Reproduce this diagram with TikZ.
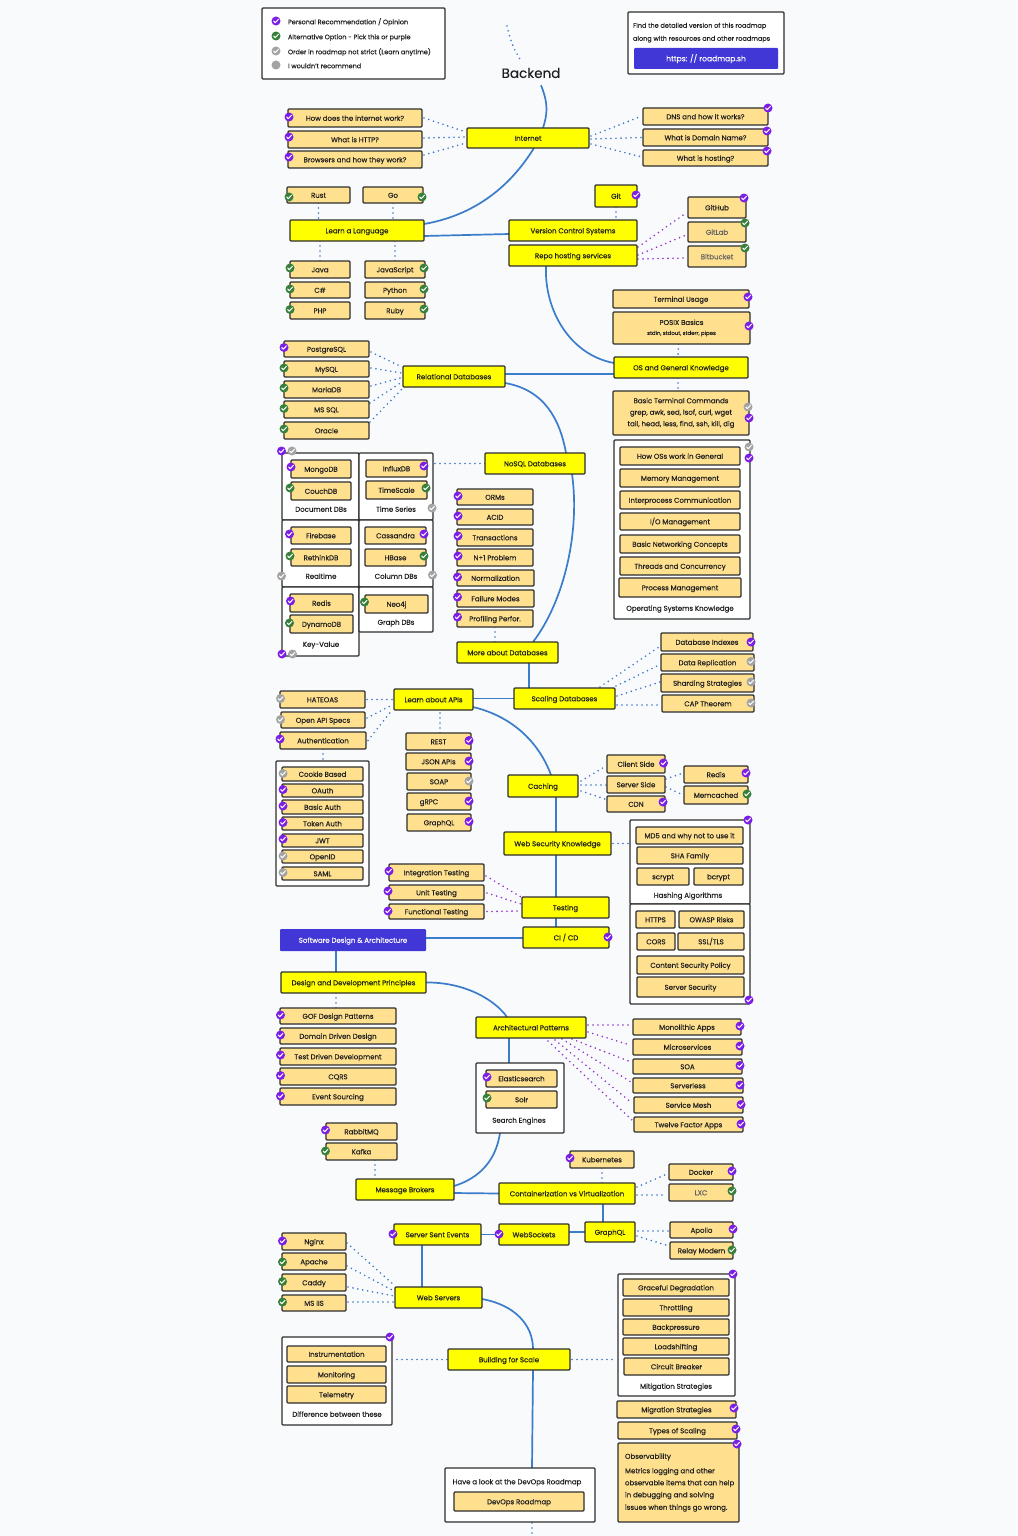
\documentclass[tikz,border=0pt]{standalone}
\usepackage{fontspec}
\setmainfont{Poppins}[UprightFeatures={FakeBold=0.07}]
\usetikzlibrary{calc}
\pgfdeclarelayer{bg}
\pgfsetlayers{bg,main}
\definecolor{pagebg}{HTML}{F8FAFC}
\definecolor{boxline}{HTML}{2E2E2E}
\definecolor{tanfill}{HTML}{FFE08F}
\definecolor{yelfill}{HTML}{FFFF00}
\definecolor{indfill}{HTML}{4136D6}
\definecolor{bluel}{HTML}{3B7CCB}
\definecolor{dotb}{HTML}{3F78CC}
\definecolor{dotp}{HTML}{9430D0}
\definecolor{bpurple}{HTML}{7D1EE6}
\definecolor{bgreen}{HTML}{36803A}
\definecolor{bgrey}{HTML}{A3A3A3}
\definecolor{inkc}{HTML}{1F1F1F}
\newcounter{bdg}
\tikzset{
  base/.style={rectangle,rounded corners=1pt,inner sep=0pt,outer sep=0pt,align=center,text=inkc,
    text height=6pt,text depth=.5pt,font=\fontsize{7}{10}\selectfont},
  multi/.style={text height={},text depth={}},
  tanbox/.style={base,draw=boxline,line width=1.1pt,fill=tanfill},
  yelbox/.style={base,draw=boxline,line width=1.1pt,fill=yelfill},
  grpbox/.style={base,draw=boxline,line width=1.1pt,fill=white},
  indbox/.style={base,fill=indfill,text=white},
  lab/.style={inner sep=0pt,outer sep=0pt,text=inkc,text height=6pt,text depth=.5pt,font=\fontsize{7}{10}\selectfont},
  smalllab/.style={lab,font=\fontsize{6.5}{10}\selectfont},
  blueline/.style={draw=bluel,line width=1.7pt},
  dotblue/.style={draw=dotb,line width=1.8pt,line cap=round,dash pattern=on 0pt off 5pt},
  dotpurple/.style={draw=dotp,line width=1.8pt,line cap=round,dash pattern=on 0pt off 5pt},
  badge/.style={circle,inner sep=0pt,outer sep=0pt,minimum size=9pt,fill=#1,
    path picture={\draw[white,line width=1pt,line cap=round,line join=round] (-2.3,0)--(-.7,1.7)--(2.4,-1.7);}},
  plainbadge/.style={circle,inner sep=0pt,outer sep=0pt,minimum size=9pt,fill=#1},
}
\newcommand\Bx[7]{%
  \pgfmathsetmacro\bxcx{(#3+#5)/2}\pgfmathsetmacro\bxcy{(#4+#6)/2}%
  \pgfmathsetmacro\bxw{#5-#3}\pgfmathsetmacro\bxh{#6-#4}%
  \node[#1,minimum width=\bxw pt,minimum height=\bxh pt] (#2) at (\bxcx,\bxcy) {#7};}
\newcommand\Lb[4]{\node[lab] (#1) at (#2,#3) {#4};}
\newcommand\Lf[4]{\node[lab,anchor=west] (#1) at (#2,#3) {#4};}
\newcommand\Ls[4]{\node[smalllab,anchor=west] (#1) at (#2,#3) {#4};}
\newcommand\bpur[2]{\stepcounter{bdg}\node[badge=bpurple] (bd\arabic{bdg}) at (#1,#2) {};}
\newcommand\bgrn[2]{\stepcounter{bdg}\node[badge=bgreen] (bd\arabic{bdg}) at (#1,#2) {};}
\newcommand\bgry[2]{\stepcounter{bdg}\node[badge=bgrey] (bd\arabic{bdg}) at (#1,#2) {};}
\newcommand\bnon[2]{\stepcounter{bdg}\node[plainbadge=bgrey] (bd\arabic{bdg}) at (#1,#2) {};}
% connector with offsets: style, anchor A, offset A, anchor B, offset B
\newcommand\Cn[5]{\draw[#1] ($(#2)+(#3)$) -- ($(#4)+(#5)$);}
\begin{document}
\begin{tikzpicture}[x=1pt,y=-1pt]
\useasboundingbox (0,0) rectangle (1017,1536);
\begin{pgfonlayer}{bg}
\fill[pagebg] (0,0) rectangle (1017,1536);
\end{pgfonlayer}

% legend
\Bx{grpbox}{legend}{262}{8}{445}{79}{}
\Ls{l1}{288}{21.5}{Personal Recommendation / Opinion}
\Ls{l2}{288}{36.5}{Alternative Option - Pick this or purple}
\Ls{l3}{288}{51.5}{Order in roadmap not strict (Learn anytime)}
\Ls{l4}{288}{65.5}{I wouldn't recommend}
% link box
\Bx{grpbox}{linkbox}{628}{12}{784}{74}{}
\Ls{f1}{633}{25}{Find the detailed version of this roadmap}
\Ls{f2}{633}{38}{along with resources and other roadmaps}
\Bx{indbox}{linkbtn}{634}{48}{778}{69}{\fontsize{7.6}{10}\selectfont https: // roadmap.sh}
\node[inner sep=0pt,text=inkc,font=\fontsize{13.5}{16}\selectfont] (backend) at (531,73) {Backend};
\coordinate (topfree) at (507,26);

% internet
\Bx{yelbox}{internet}{467}{128}{589}{148}{Internet}
\Bx{tanbox}{howint}{288}{109}{422}{127}{How does the internet work?}
\Bx{tanbox}{whathttp}{288}{131}{422}{148}{What is HTTP?}
\Bx{tanbox}{browsers}{288}{151}{422}{168}{Browsers and how they work?}
\Bx{tanbox}{dns}{643}{108}{768}{125}{DNS and how it works?}
\Bx{tanbox}{domain}{643}{129}{768}{146}{What is Domain Name?}
\Bx{tanbox}{hosting}{643}{150}{768}{166}{What is hosting?}
% languages
\Bx{yelbox}{lang}{290}{220}{424}{241}{Learn a Language}
\Bx{tanbox}{rust}{287}{187}{350}{203}{Rust}
\Bx{tanbox}{go}{363}{187}{423}{203}{Go}
\Bx{tanbox}{java}{290}{261}{350}{278}{Java}
\Bx{tanbox}{csharp}{290}{282}{350}{298}{C\#}
\Bx{tanbox}{php}{290}{302}{350}{319}{PHP}
\Bx{tanbox}{js}{365}{261}{425}{278}{JavaScript}
\Bx{tanbox}{python}{365}{282}{425}{298}{Python}
\Bx{tanbox}{ruby}{365}{302}{425}{319}{Ruby}
% VCS
\Bx{yelbox}{vcs}{509}{220}{637}{241}{Version Control Systems}
\Bx{yelbox}{repo}{509}{245}{637}{266}{Repo hosting services}
\Bx{yelbox}{git}{595}{185}{637}{207}{Git}
\Bx{tanbox}{github}{688}{197}{746}{218}{GitHub}
\Bx{tanbox}{gitlab}{688}{222}{746}{242}{\textcolor{inkc!70}{GitLab}}
\Bx{tanbox}{bitbucket}{688}{246}{746}{267}{\textcolor{inkc!70}{Bitbucket}}
% OS
\Bx{tanbox}{terminal}{613}{290}{749}{308}{Terminal Usage}
\Bx{tanbox,multi}{posix}{613}{312}{750}{344}{POSIX Basics\\{\fontsize{5.4}{6}\selectfont stdin, stdout, stderr, pipes}}
\Bx{yelbox}{os}{614}{357}{748}{378}{OS and General Knowledge}
\Bx{tanbox,multi}{basicterm}{613}{391}{749}{435}{Basic Terminal Commands\\[1.5pt]grep, awk, sed, lsof, curl, wget\\[1.5pt]tail, head, less, find, ssh, kill, dig}
\Bx{grpbox}{osbox}{614}{440}{750}{619}{}
\Bx{tanbox}{howos}{620}{447}{740}{465}{How OSs work in General}
\Bx{tanbox}{memory}{620}{469}{740}{487}{Memory Management}
\Bx{tanbox}{ipc}{620}{491}{740}{509}{Interprocess Communication}
\Bx{tanbox}{io}{620}{513}{740}{530}{I/O Management}
\Bx{tanbox}{netconc}{620}{535}{740}{553}{Basic Networking Concepts}
\Bx{tanbox}{threads}{620}{557}{740}{575}{Threads and Concurrency}
\Bx{tanbox}{process}{619}{578}{741}{597}{Process Management}
\Lb{oslab}{680}{608}{Operating Systems Knowledge}
% relational
\Bx{yelbox}{rel}{403}{366}{505}{387}{Relational Databases}
\Bx{tanbox}{postgres}{284}{341}{369}{357}{PostgreSQL}
\Bx{tanbox}{mysql}{284}{361}{369}{377}{MySQL}
\Bx{tanbox}{mariadb}{284}{381}{369}{398}{MariaDB}
\Bx{tanbox}{mssql}{284}{401}{369}{418}{MS SQL}
\Bx{tanbox}{oracle}{284}{422}{369}{439}{Oracle}
% NoSQL
\Bx{yelbox}{nosql}{485}{453}{585}{474}{NoSQL Databases}
\Bx{grpbox}{docbox}{282}{453}{359}{520}{}
\Bx{grpbox}{tsbox}{359}{453}{433}{520}{}
\Bx{grpbox}{rtbox}{282}{520}{359}{587}{}
\Bx{grpbox}{colbox}{359}{520}{433}{587}{}
\Bx{grpbox}{kvbox}{282}{587}{359}{656}{}
\Bx{grpbox}{grbox}{359}{587}{433}{632}{}
\Bx{tanbox}{mongo}{291}{460}{351}{478}{MongoDB}
\Bx{tanbox}{couch}{291}{482}{351}{500}{CouchDB}
\Lb{doclab}{321}{509}{Document DBs}
\Bx{tanbox}{influx}{366}{460}{427}{477}{InfluxDB}
\Bx{tanbox}{timescale}{366}{481}{427}{499}{TimeScale}
\Lb{tslab}{396}{509}{Time Series}
\Bx{tanbox}{firebase}{291}{527}{351}{544}{Firebase}
\Bx{tanbox}{rethink}{291}{549}{351}{566}{RethinkDB}
\Lb{rtlab}{321}{576}{Realtime}
\Bx{tanbox}{cassandra}{365}{527}{426}{544}{Cassandra}
\Bx{tanbox}{hbase}{365}{549}{426}{566}{HBase}
\Lb{collab}{396}{576}{Column DBs}
\Bx{tanbox}{redisdb}{290}{594}{353}{612}{Redis}
\Bx{tanbox}{dynamo}{290}{615}{353}{633}{DynamoDB}
\Lb{kvlab}{321}{644}{Key-Value}
\Bx{tanbox}{neo}{365}{595}{428}{613}{Neo4j}
\Lb{grlab}{396}{622}{Graph DBs}
% more about DBs
\Bx{tanbox}{orms}{457}{489}{533}{505}{ORMs}
\Bx{tanbox}{acid}{457}{509}{533}{525}{ACID}
\Bx{tanbox}{trans}{457}{529}{533}{546}{Transactions}
\Bx{tanbox}{nplus}{457}{549}{533}{566}{N+1 Problem}
\Bx{tanbox}{normal}{457}{570}{534}{586}{Normalization}
\Bx{tanbox}{failure}{457}{590}{534}{607}{Failure Modes}
\Bx{tanbox}{profiling}{457}{610}{533}{627}{Profiling Perfor.}
\Bx{yelbox}{more}{457}{642}{558}{663}{More about Databases}
% scaling
\Bx{yelbox}{scaling}{514}{688}{615}{709}{Scaling Databases}
\Bx{tanbox}{index}{661}{633}{753}{651}{Database Indexes}
\Bx{tanbox}{replic}{661}{654}{754}{671}{Data Replication}
\Bx{tanbox}{shard}{661}{674}{754}{692}{Sharding Strategies}
\Bx{tanbox}{cap}{662}{695}{754}{712}{CAP Theorem}
% APIs
\Bx{yelbox}{apis}{394}{689}{473}{710}{Learn about APIs}
\Bx{tanbox}{hateoas}{280}{691}{365}{708}{HATEOAS}
\Bx{tanbox}{openapi}{281}{712}{365}{728}{Open API Specs}
\Bx{tanbox}{auth}{280}{732}{366}{749}{Authentication}
\Bx{grpbox}{authbox}{276}{761}{369}{886}{}
\Bx{tanbox}{cookie}{282}{767}{363}{781}{Cookie Based}
\Bx{tanbox}{oauth}{282}{784}{363}{797}{OAuth}
\Bx{tanbox}{basicauth}{282}{800}{363}{814}{Basic Auth}
\Bx{tanbox}{token}{282}{817}{363}{830}{Token Auth}
\Bx{tanbox}{jwt}{282}{834}{363}{847}{JWT}
\Bx{tanbox}{openid}{282}{850}{363}{863}{OpenID}
\Bx{tanbox}{saml}{282}{867}{363}{880}{SAML}
\Bx{tanbox}{rest}{406}{733}{471}{750}{REST}
\Bx{tanbox}{jsonapi}{406}{753}{471}{770}{JSON APIs}
\Bx{tanbox}{soap}{407}{773}{471}{790}{SOAP}
\Bx{tanbox}{grpc}{407}{793}{471}{810}{gRPC\hspace{20pt}}
\Bx{tanbox}{gql}{407}{814}{471}{831}{GraphQL}
% caching
\Bx{yelbox}{caching}{508}{775}{578}{797}{Caching}
\Bx{tanbox}{client}{607}{755}{665}{773}{Client Side}
\Bx{tanbox}{server}{607}{776}{665}{793}{Server Side}
\Bx{tanbox}{cdn}{607}{796}{665}{812}{CDN}
\Bx{tanbox}{redisc}{684}{766}{748}{783}{Redis}
\Bx{tanbox}{memc}{684}{786}{748}{804}{Memcached}
% security
\Bx{yelbox}{websec}{504}{832}{611}{855}{Web Security Knowledge}
\Bx{grpbox}{hash}{630}{820}{750}{904}{}
\Bx{tanbox}{md5}{636}{827}{743}{844}{MD5 and why not to use it}
\Bx{tanbox}{sha}{637}{847}{743}{864}{SHA Family}
\Bx{tanbox}{scrypt}{637}{868}{689}{885}{scrypt}
\Bx{tanbox}{bcrypt}{694}{868}{743}{885}{bcrypt}
\Lb{hashlab}{688}{895}{Hashing Algorithms}
\Bx{grpbox}{secbox}{630}{904}{750}{1004}{}
\Bx{tanbox}{https}{636}{911}{675}{928}{HTTPS}
\Bx{tanbox}{owasp}{679}{911}{744}{928}{OWASP Risks}
\Bx{tanbox}{cors}{637}{933}{675}{950}{CORS}
\Bx{tanbox}{ssl}{678}{933}{744}{950}{SSL/TLS}
\Bx{tanbox}{csp}{637}{956}{744}{974}{Content Security Policy}
\Bx{tanbox}{servsec}{637}{977}{744}{997}{Server Security}
% testing
\Bx{yelbox}{testing}{522}{897}{609}{918}{Testing}
\Bx{yelbox}{ci}{523}{927}{609}{948}{CI / CD}
\Bx{tanbox}{integ}{389}{864}{484}{881}{Integration Testing}
\Bx{tanbox}{unit}{389}{885}{484}{900}{Unit Testing}
\Bx{tanbox}{func}{389}{904}{484}{919}{Functional Testing}
\Bx{indbox}{software}{280}{929}{426}{951}{Software Design \& Architecture}
% design
\Bx{yelbox}{design}{281}{972}{426}{993}{Design and Development Principles}
\Bx{tanbox}{gof}{280}{1008}{396}{1024}{GOF Design Patterns}
\Bx{tanbox}{ddd}{280}{1028}{396}{1044}{Domain Driven Design}
\Bx{tanbox}{tdd}{280}{1048}{396}{1065}{Test Driven Development}
\Bx{tanbox}{cqrs}{280}{1068}{396}{1085}{CQRS}
\Bx{tanbox}{evsrc}{280}{1088}{396}{1105}{Event Sourcing}
% architecture
\Bx{yelbox}{arch}{476}{1017}{586}{1038}{Architectural Patterns}
\Bx{grpbox}{search}{476}{1063}{564}{1133}{}
\Bx{tanbox}{elastic}{486}{1070}{557}{1087}{Elasticsearch}
\Bx{tanbox}{solr}{486}{1091}{557}{1108}{Solr}
\Lb{searchlab}{519}{1120}{Search Engines}
\Bx{tanbox}{mono}{633}{1019}{741}{1035}{Monolithic Apps}
\Bx{tanbox}{micro}{633}{1039}{742}{1055}{Microservices}
\Bx{tanbox}{soa}{633}{1059}{742}{1074}{SOA}
\Bx{tanbox}{serverless}{633}{1078}{743}{1093}{Serverless}
\Bx{tanbox}{mesh}{634}{1097}{743}{1113}{Service Mesh}
\Bx{tanbox}{twelve}{634}{1117}{743}{1132}{Twelve Factor Apps}
% brokers
\Bx{tanbox}{rabbit}{326}{1123}{397}{1140}{RabbitMQ}
\Bx{tanbox}{kafka}{326}{1143}{397}{1160}{Kafka}
\Bx{yelbox}{broker}{356}{1179}{454}{1200}{Message Brokers}
\Bx{yelbox}{contain}{499}{1183}{635}{1204}{Containerization vs Virtualization}
\Bx{tanbox}{kube}{570}{1151}{634}{1168}{Kubernetes}
\Bx{tanbox}{docker}{669}{1164}{733}{1180}{Docker}
\Bx{tanbox}{lxc}{669}{1184}{733}{1201}{\textcolor{inkc!70}{LXC}}
\Bx{yelbox}{graphql}{585}{1222}{635}{1242}{GraphQL}
\Bx{tanbox}{apollo}{670}{1222}{733}{1238}{Apollo}
\Bx{tanbox}{relay}{670}{1242}{733}{1259}{Relay Modern}
\Bx{yelbox}{ws}{499}{1224}{569}{1245}{WebSockets}
\Bx{yelbox}{sse}{394}{1224}{481}{1245}{Server Sent Events}
% web servers
\Bx{yelbox}{web}{395}{1287}{482}{1308}{Web Servers}
\Bx{tanbox}{nginx}{282}{1233}{346}{1250}{Nginx}
\Bx{tanbox}{apache}{282}{1253}{346}{1270}{Apache}
\Bx{tanbox}{caddy}{282}{1274}{346}{1291}{Caddy}
\Bx{tanbox}{msiis}{282}{1295}{346}{1311}{MS IIS}
% scale
\Bx{yelbox}{building}{448}{1349}{570}{1370}{Building for Scale}
\Bx{grpbox}{instr}{282}{1337}{392}{1425}{}
\Bx{tanbox}{instrum}{287}{1346}{386}{1362}{Instrumentation}
\Bx{tanbox}{monitor}{287}{1366}{386}{1383}{Monitoring}
\Bx{tanbox}{telemetry}{287}{1386}{386}{1403}{Telemetry}
\Lb{difflab}{337}{1414}{Difference between these}
\Bx{grpbox}{mitig}{618}{1274}{735}{1396}{}
\Bx{tanbox}{graceful}{623}{1279}{729}{1296}{Graceful Degradation}
\Bx{tanbox}{throttle}{623}{1299}{729}{1316}{Throttling}
\Bx{tanbox}{backp}{623}{1319}{729}{1335}{Backpressure}
\Bx{tanbox}{loadsh}{623}{1338}{729}{1355}{Loadshifting}
\Bx{tanbox}{circuit}{624}{1358}{729}{1375}{Circuit Breaker}
\Lb{mitlab}{676}{1386}{Mitigation Strategies}
\Bx{tanbox}{migr}{617}{1401}{736}{1418}{Migration Strategies}
\Bx{tanbox}{types}{618}{1422}{737}{1439}{Types of Scaling}
\Bx{tanbox}{observ}{618}{1443}{739}{1522}{}
\Lf{ob0}{625}{1456}{Observability}
\Lf{ob1}{625}{1470.5}{Metrics logging and other}
\Lf{ob2}{625}{1482.5}{observable items that can help}
\Lf{ob3}{625}{1494.5}{in debugging and solving}
\Lf{ob4}{625}{1507}{issues when things go wrong.}
\Bx{grpbox}{devbox}{445}{1468}{595}{1522}{}
\Lb{devlab}{517}{1481.5}{Have a look at the DevOps Roadmap}
\Bx{tanbox}{devbtn}{454}{1492}{584}{1511}{DevOps Roadmap}
\coordinate (endfree) at (532,1536);

% connectors
\begin{pgfonlayer}{bg}
\draw[dotblue] (topfree) .. controls (510,40) and (514,50) .. ($(backend.north)+(-10,-7)$);
\draw[blueline] ($(backend.south)+(10,7)$) .. controls (549,105) and (547,115) .. ($(internet.north)+(15,0)$);
\draw[blueline] ($(internet.south)+(6,0)$) .. controls (505,195) and (465,217) .. ($(lang.east)+(0,-6.5)$);
\Cn{dotblue}{howint.east}{2,0}{internet.west}{-1,-6}
\Cn{dotblue}{whathttp.east}{2,-1.5}{internet.west}{-1,-1}
\Cn{dotblue}{browsers.east}{2,-4.5}{internet.west}{-1,5}
\Cn{dotblue}{internet.east}{2,-2}{dns.west}{-1,-.5}
\Cn{dotblue}{internet.east}{2,1}{domain.west}{-1,0}
\Cn{dotblue}{internet.east}{2,6}{hosting.west}{-1,-1}
\draw[dotblue] (rust.south) -- (rust.south |- lang.north);
\draw[dotblue] (go.south) -- (go.south |- lang.north);
\draw[dotblue] (java.north) -- (java.north |- lang.south);
\draw[dotblue] (js.north) -- (js.north |- lang.south);
\Cn{blueline}{lang.east}{0,5.5}{vcs.west}{0,3.5}
\draw[dotblue] (git.south) -- (git.south |- vcs.north);
\Cn{dotpurple}{repo.east}{1,-8.5}{github.west}{-2,5.5}
\Cn{dotpurple}{repo.east}{1,-.5}{gitlab.west}{-2,3}
\Cn{dotpurple}{repo.east}{1,3.5}{bitbucket.west}{-1,1.5}
\draw[blueline] ($(repo.south)+(-27,0)$) .. controls (544,310) and (570,355) .. ($(os.west)+(0,-4.5)$);
\Cn{dotblue}{posix.south}{-3,0}{os.north}{-3,0}
\Cn{dotblue}{os.south}{-3,0}{basicterm.north}{-3,0}
\Cn{blueline}{rel.east}{0,-2.5}{os.west}{0,6.5}
\Cn{dotblue}{postgres.east}{2,3}{rel.west}{-1,-9.5}
\Cn{dotblue}{mysql.east}{2,-1}{rel.west}{-1,-3.5}
\Cn{dotblue}{mariadb.east}{2,-3.5}{rel.west}{-1,1}
\Cn{dotblue}{mssql.east}{1,-6.5}{rel.west}{-1,5.5}
\Cn{dotblue}{oracle.east}{1,-8.5}{rel.west}{0,11.5}
\draw[blueline] ($(rel.east)+(0,6.5)$) .. controls (545,390) and (560,420) .. ($(nosql.north)+(31,0)$);
\draw[blueline] ($(nosql.south)+(37,0)$) .. controls (580,530) and (565,600) .. ($(more.north)+(25.5,0)$);
\draw[dotblue] (nosql.west) -- (nosql.west -| tsbox.east);
\draw[dotblue] (profiling.south) -- (profiling.south |- more.north);
\Cn{blueline}{more.south}{21.5,0}{scaling.north}{-35.5,0}
\draw[blueline] (scaling.west) -- (scaling.west -| apis.east);
\draw[blueline] ($(apis.east)+(0,7.5)$) .. controls (515,717) and (540,745) .. ($(caching.north)+(8,0)$);
\Cn{dotblue}{scaling.north}{35.5,-1}{index.west}{-2,5}
\Cn{dotblue}{scaling.north east}{1,-2}{replic.west}{-2,2.5}
\Cn{dotblue}{scaling.east}{2,-2.5}{shard.west}{-1,-1}
\Cn{dotblue}{scaling.east}{2,6.5}{cap.west}{-3,1.5}
\Cn{dotblue}{hateoas.east}{2,0}{apis.west}{-2,0}
\Cn{dotblue}{openapi.east}{2,-2}{apis.west}{-2,5.5}
\Cn{dotblue}{auth.east}{2,0}{apis.west}{-2,10.5}
\draw[dotblue] (auth.south) -- (auth.south |- authbox.north);
\draw[dotblue] ($(rest.north)+(1.5,0)$) -- ($(rest.north |- apis.south)+(1.5,0)$);
\Cn{dotblue}{caching.east}{3,-5}{client.west}{-1,2}
\Cn{dotblue}{caching.east}{3,-1}{server.west}{-1,.5}
\Cn{dotblue}{caching.east}{3,5}{cdn.west}{-2,-5}
\Cn{dotblue}{server.east}{1,-5.5}{redisc.west}{-1,-1.5}
\Cn{dotblue}{server.east}{1,2.5}{memc.west}{-1,0}
\Cn{blueline}{caching.south}{13,0}{websec.north}{-1.5,0}
\Cn{blueline}{websec.south}{-1.5,0}{testing.north}{-9.5,0}
\Cn{blueline}{testing.south}{-9.5,0}{ci.north}{-10,0}
\draw[dotblue] ($(websec.east)+(2,0)$) -- ($(websec.east -| hash.west)+(-2,0)$);
\Cn{dotpurple}{integ.east}{2,3.5}{testing.west}{-1,-10.5}
\Cn{dotpurple}{unit.east}{3,.5}{testing.west}{-1,-3.5}
\Cn{dotpurple}{func.east}{3,0}{testing.west}{-1,3.5}
\Cn{blueline}{software.east}{0,-2}{ci.west}{0,.5}
\Cn{blueline}{software.south}{-17,0}{design.north}{-17.5,0}
\draw[blueline] (design.east) .. controls (465,982) and (495,1000) .. ($(arch.north)+(-24,0)$);
\Cn{dotblue}{design.south}{-17.5,0}{gof.north}{-2,0}
\Cn{blueline}{arch.south}{-22,0}{search.north}{-11,0}
\Cn{dotpurple}{arch.east}{2,-2.5}{mono.west}{-3,-2}
\Cn{dotpurple}{arch.east}{2,4.5}{micro.west}{-3,-2}
\Cn{dotpurple}{arch.south}{41,1}{soa.west}{-2,-4.5}
\Cn{dotpurple}{arch.south}{31,1}{serverless.west}{-2,-3.5}
\Cn{dotpurple}{arch.south}{24,2}{mesh.west}{-2,-2}
\Cn{dotpurple}{arch.south}{17,3}{twelve.west}{-2,-4.5}
\Cn{dotblue}{kafka.south}{13.5,0}{broker.north}{-30,0}
\draw[blueline] ($(search.south)+(-20,0)$) .. controls (496,1160) and (480,1178) .. ($(broker.east)+(0,-3.5)$);
\Cn{blueline}{broker.east}{0,3.5}{contain.west}{0,0}
\draw[dotblue] (kube.south) -- (kube.south |- contain.north);
\Cn{dotblue}{contain.east}{2,-6.5}{docker.west}{-2,2}
\Cn{dotblue}{contain.east}{2,1.5}{lxc.west}{-3,2.5}
\Cn{blueline}{contain.south}{36,0}{graphql.north}{-7,0}
\Cn{dotblue}{graphql.east}{3,-1}{apollo.west}{-2,1}
\Cn{dotblue}{graphql.east}{2,4}{relay.west}{-1,-4.5}
\draw[blueline] (graphql.west) -- (graphql.west -| ws.east);
\draw[blueline] (sse.east) -- (ws.west);
\Cn{blueline}{sse.south}{-15.5,0}{web.north}{-16.5,0}
\Cn{dotblue}{nginx.east}{1,1.5}{web.west}{-1,-12.5}
\Cn{dotblue}{apache.east}{1,4.5}{web.west}{-1,-6.5}
\Cn{dotblue}{caddy.east}{2,4.5}{web.west}{-1,-1.5}
\Cn{dotblue}{msiis.east}{2,-1}{web.west}{-1,4.5}
\draw[blueline] ($(web.east)+(0,1.5)$) .. controls (515,1305) and (533,1325) .. ($(building.north)+(24,0)$);
\Cn{blueline}{building.south}{24,0}{devbox.north}{12,0}
\draw[dotblue] ($(building.west)+(-1,0)$) -- ($(building.west -| instr.east)+(2,0)$);
\draw[dotblue] ($(building.east)+(2,0)$) -- ($(building.east -| mitig.west)+(-2,0)$);
\draw[dotblue] ($(devbox.south)+(12,1)$) -- (endfree);
\end{pgfonlayer}

% badges
\bpur{276}{21}\bgrn{276}{36}\bgry{276}{51}\bnon{276}{65}
\bpur{289}{117}\bpur{289}{137}\bpur{289}{157}
\bpur{768}{108}\bpur{767}{131}\bpur{767}{151}
\bgrn{289}{197}\bgrn{422}{197}
\bgrn{290}{268}\bgrn{290}{289}\bgrn{290}{309.5}
\bgrn{424}{268}\bgrn{424}{289}\bgrn{424}{309}
\bpur{636}{195}\bpur{744}{198}\bgrn{745}{223}\bgrn{745}{248}
\bpur{748}{297}\bpur{749}{326}\bgry{748}{407}\bpur{749}{418}
\bgry{749}{447}\bpur{749}{458}
\bpur{284}{347.5}\bgrn{284}{368}\bgrn{284}{388}\bgrn{284}{408.5}\bgrn{284}{429}
\bpur{281.5}{451}\bgry{292}{451}\bpur{291}{467}\bgrn{290}{488}
\bpur{424}{466}\bgrn{426}{488}\bgry{432}{508}
\bpur{289.5}{534}\bgrn{290}{556}\bgry{281.5}{576}
\bpur{424}{534}\bgrn{424}{556}\bgry{432.5}{575}
\bpur{290.5}{601}\bgrn{289.5}{623}\bgrn{364.5}{602}\bpur{282}{654}\bgry{292.5}{654}
\bpur{458}{496}\bpur{458}{516}\bpur{458}{536}\bpur{458}{556}\bpur{457.5}{577}\bpur{457.5}{597}\bpur{457.5}{617}
\bpur{751}{642}\bgry{751}{661.5}\bgry{751}{682}\bgry{751}{703}
\bgry{280.5}{698.5}\bgry{280.5}{719.5}\bpur{280}{739}
\bgry{283}{773.5}\bpur{283}{789.5}\bpur{283}{806}\bpur{283}{822.5}\bpur{283}{839}\bgry{283}{856}\bgry{283}{872.5}
\bpur{469}{740.5}\bpur{469}{761}\bgry{469}{781}\bpur{469}{801}\bpur{469}{821.5}
\bpur{663.5}{763}\bpur{663}{802}\bpur{746}{773}\bgrn{747}{794}
\bpur{748}{820}\bpur{749}{1000}
\bpur{389}{871}\bpur{388}{891}\bpur{388}{911}\bpur{608}{937}
\bpur{280.5}{1015}\bpur{280.5}{1035}\bpur{280.5}{1055}\bpur{280.5}{1075.5}\bpur{280.5}{1096}
\bpur{487}{1077}\bgrn{487}{1098}
\bpur{740}{1026}\bpur{740}{1046}\bpur{740}{1065.5}\bpur{740}{1085}\bpur{741}{1104.5}\bpur{741}{1124}
\bpur{325.5}{1130}\bgrn{325.5}{1151}
\bpur{570}{1158}\bpur{732}{1171}\bgrn{732}{1191}
\bpur{733}{1229}\bgrn{732}{1250}\bpur{499}{1234}\bpur{393}{1234}
\bpur{282.5}{1241}\bgrn{282.5}{1262}\bgrn{282.5}{1281.5}\bgrn{282.5}{1302}
\bpur{390}{1337}\bpur{733}{1274}\bpur{734}{1408}\bpur{736}{1429}\bpur{737}{1444}
\end{tikzpicture}
\end{document}
